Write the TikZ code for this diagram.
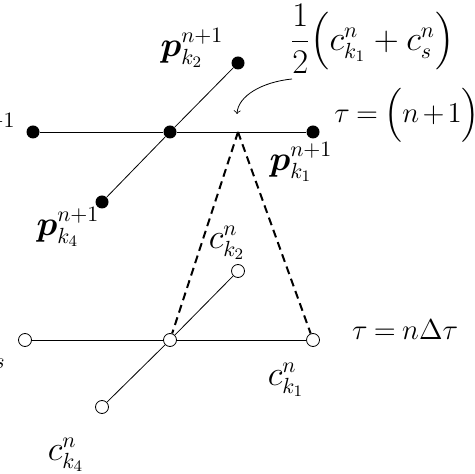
\documentclass[tikz,border=0pt]{standalone}
\usepackage{amsmath}
\usepackage{amssymb}
\usepackage{bm}
\DeclareMathSizes{16}{16}{11}{8}
\DeclareMathSizes{15}{15}{10}{7}
\usetikzlibrary{arrows}
\usetikzlibrary{calc}
\usetikzlibrary{positioning}
\newcommand{\tightmath}{\thickmuskip=4mu\relax\medmuskip=2mu\relax}

\begin{document}
\begin{tikzpicture}[-,auto,x=0.5pt,y=-0.5pt,thin]
	\tikzstyle{full}=[circle, fill=black, draw=none, inner sep=0pt, minimum size=6.5pt]
	\tikzstyle{hollow}=[circle, fill=white, draw=black, thin, inner sep=0pt, minimum size=6.5pt]
	\tikzstyle{gap}=[dashed, line width=1pt, dash pattern=on 4pt off 2.5pt]
	\tikzstyle{big}=[font=\fontsize{16}{19}\selectfont, inner sep=0pt]
	\tikzstyle{level}=[font=\fontsize{15}{18}\selectfont, inner sep=0pt]
	\useasboundingbox (0,0) rectangle (474,474);
			% time level n+1
			\node[full]  (1) at (33,132) {};
			\node[full]  (2) at (170,132) {};
			\node[full]  (3) at (313,132) {};
			\node[full]  (4) at (238,63) {};
			\node[full]  (5) at (102,202) {};
			\coordinate  (m) at (238,132);
			% time level n
			\node[hollow]  (6) at (25,340) {};
			\node[hollow]  (7) at (170,340) {};
			\node[hollow]  (8) at (313,340) {};
			\node[hollow]  (9) at (238,271) {};
			\node[hollow]  (10) at (102,407) {};

			\draw (1) -- (2) -- (3);
			\draw (5) -- (2) -- (4);
			\draw (6) -- (7) -- (8);
			\draw (10) -- (7) -- (9);
			\draw[gap] (m) -- (7);
			\draw[gap] (m) -- (8);

			\coordinate (a) at (292,79);
			\coordinate (b) at (237,114);
			\draw[->] (a) .. controls (262,82) and (238,96) .. (b);

			% labels
			\node[big] (l4) at (192,48) {$\boldsymbol{p}_{k_2}^{n+1}$};
			\node[big] (l5) at (68,227) {$\boldsymbol{p}_{k_4}^{n+1}$};
			\node[big] (l3) at (301,162) {$\boldsymbol{p}_{k_1}^{n+1}$};
			\node[big] (l9) at (227,243) {$c_{k_2}^n$};
			\node[big] (l8) at (286,380) {$c_{k_1}^n$};
			\node[big] (l10) at (66,455) {$c_{k_4}^n$};
			\node[big, anchor=north] (mid) at (372,4) {$\dfrac{1}{2}\Bigl(c_{k_1}^n+c_s^n\Bigr)$};
			\node[level] (t1) at (407,115) {$\tightmath\tau=\Bigl(n+1\Bigr)$};
			\node[level] (t0) at (405,330) {$\tightmath\tau=n\Delta\tau$};
			\node[anchor=east, inner sep=0pt, font=\fontsize{16}{19}\selectfont] (e1) at (15,121) {$\scriptstyle n+1$};
			\node[anchor=east, inner sep=0pt, font=\fontsize{16}{19}\selectfont] (e2) at (5,364) {$\scriptstyle s$};
\end{tikzpicture}
\end{document}
